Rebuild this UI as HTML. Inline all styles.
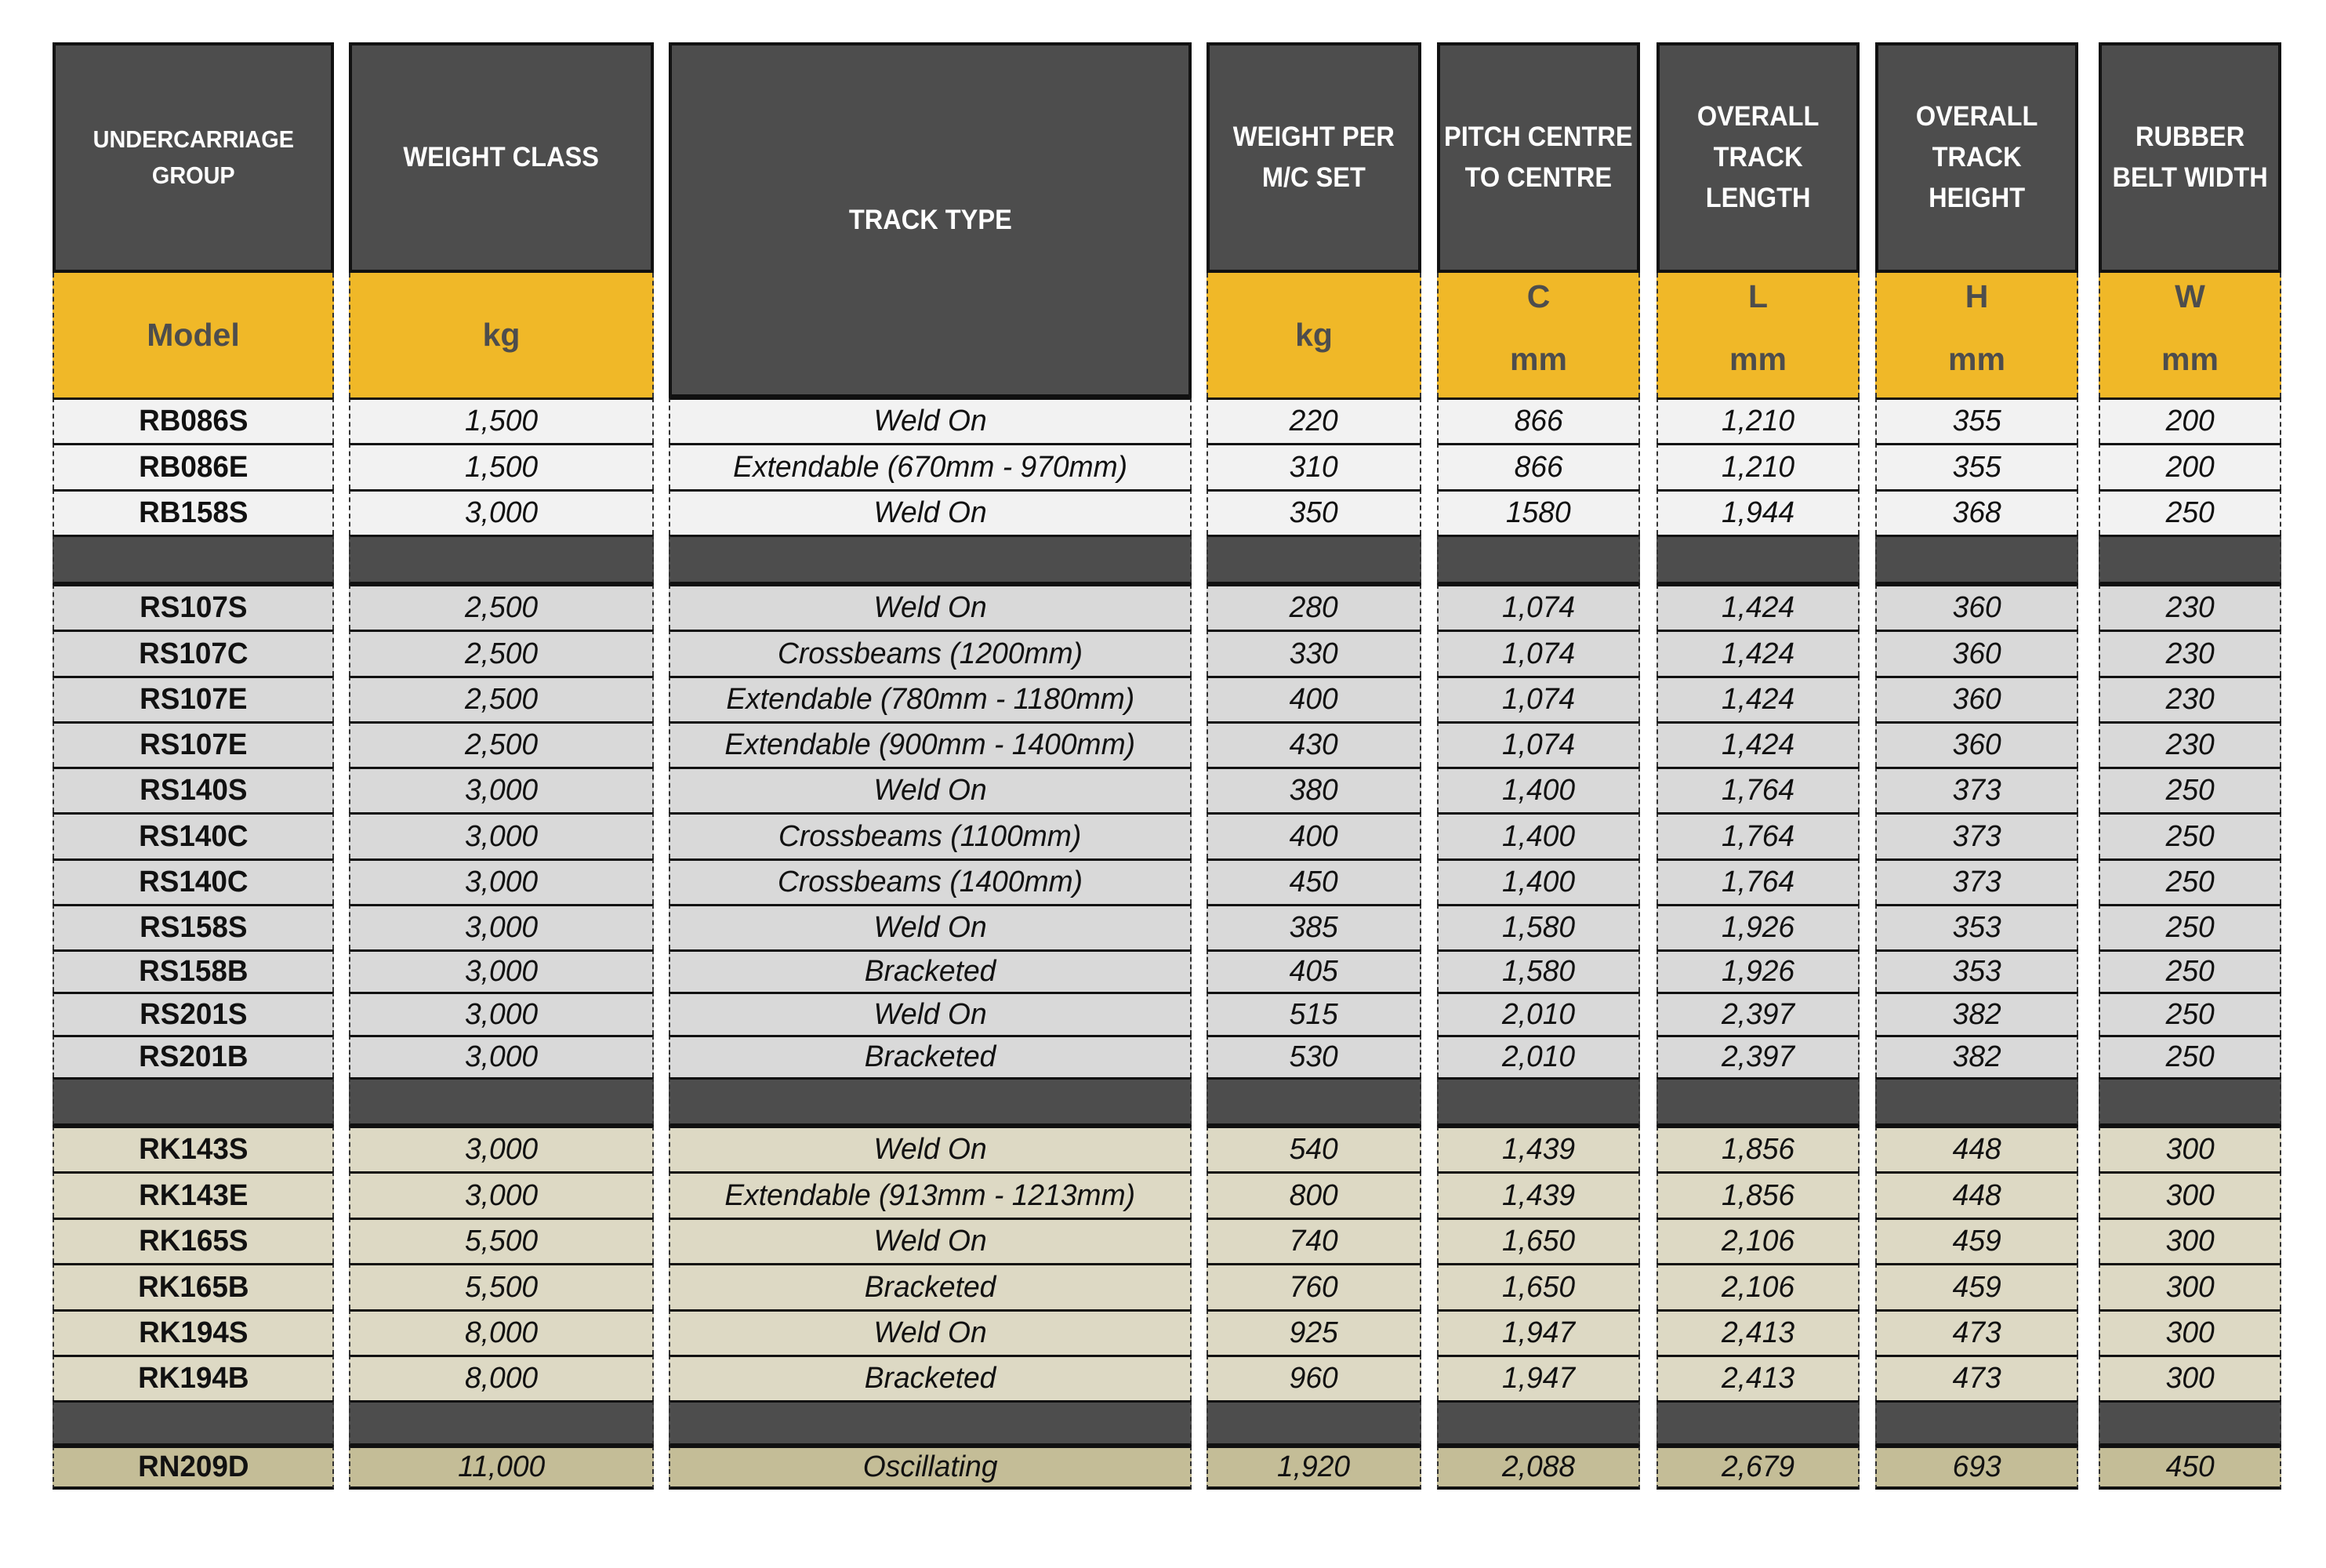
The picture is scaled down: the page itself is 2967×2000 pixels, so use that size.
<!DOCTYPE html>
<html><head><meta charset="utf-8"><style>
html,body{margin:0;padding:0;background:#fff;}
body{width:2967px;height:2000px;position:relative;overflow:hidden;font-family:"Liberation Sans",sans-serif;}
.h{position:absolute;top:54px;height:294px;box-sizing:border-box;background:#4d4d4d;border:4px solid #111;display:flex;align-items:center;justify-content:center;text-align:center;color:#fff;font-weight:bold;font-size:35px;line-height:52px;}
.h span{display:inline-block;transform:scaleX(.93);white-space:nowrap;}
.y{position:absolute;top:348px;height:159px;box-sizing:border-box;background:#f0b828;border-left:2px dashed #333;border-right:2px dashed #333;color:#4d4d4d;font-weight:bold;font-size:41px;text-align:center;}
.y span{display:inline-block;transform:scaleX(1);}
.r{position:absolute;left:0;width:2967px;}
.c{position:absolute;top:0;height:100%;box-sizing:border-box;border-top:3px solid #111;border-left:2px dashed #333;border-right:2px dashed #333;display:flex;align-items:center;justify-content:center;font-style:italic;font-size:38px;color:#111;}
.c span{display:inline-block;transform:scaleX(.98);white-space:nowrap;}
.c1{left:67px;width:359px;font-style:normal;font-weight:bold;}
.c1 span{transform:scaleX(.97);}
.c2{left:445px;width:389px;}
.c3{left:853px;width:667px;}
.c4{left:1539px;width:274px;}
.c5{left:1833px;width:259px;}
.c6{left:2113px;width:259px;}
.c7{left:2392px;width:259px;}
.c8{left:2677px;width:233px;}
.a .c{background:#f2f2f2}
.b .c{background:#d9d9d9}
.k .c{background:#ddd9c4}
.n .c{background:#c4bd97;border-bottom:4px solid #111}
.d .c{background:#4d4d4d;border-bottom:3px solid #111}
</style></head><body>

<div class="h" style="left:67px;width:359px;font-size:31px;line-height:46px;"><span>UNDERCARRIAGE<br>GROUP</span></div>
<div class="h" style="left:445px;width:389px;"><span>WEIGHT CLASS</span></div>
<div class="h" style="left:853px;width:667px;height:453px;"><span>TRACK TYPE</span></div>
<div class="h" style="left:1539px;width:274px;"><span>WEIGHT PER<br>M/C SET</span></div>
<div class="h" style="left:1833px;width:259px;"><span>PITCH CENTRE<br>TO CENTRE</span></div>
<div class="h" style="left:2113px;width:259px;"><span>OVERALL<br>TRACK<br>LENGTH</span></div>
<div class="h" style="left:2392px;width:259px;"><span>OVERALL<br>TRACK<br>HEIGHT</span></div>
<div class="h" style="left:2677px;width:233px;"><span>RUBBER<br>BELT WIDTH</span></div>

<div class="y" style="left:67px;width:359px;line-height:159px;"><span>Model</span></div>
<div class="y" style="left:445px;width:389px;line-height:159px;"><span>kg</span></div>
<div class="y" style="left:1539px;width:274px;line-height:159px;"><span>kg</span></div>
<div class="y" style="left:1833px;width:259px;"><div style="position:absolute;top:6px;width:100%;line-height:48px;"><span>C</span></div><div style="position:absolute;top:86px;width:100%;line-height:48px;"><span>mm</span></div></div>
<div class="y" style="left:2113px;width:259px;"><div style="position:absolute;top:6px;width:100%;line-height:48px;"><span>L</span></div><div style="position:absolute;top:86px;width:100%;line-height:48px;"><span>mm</span></div></div>
<div class="y" style="left:2392px;width:259px;"><div style="position:absolute;top:6px;width:100%;line-height:48px;"><span>H</span></div><div style="position:absolute;top:86px;width:100%;line-height:48px;"><span>mm</span></div></div>
<div class="y" style="left:2677px;width:233px;"><div style="position:absolute;top:6px;width:100%;line-height:48px;"><span>W</span></div><div style="position:absolute;top:86px;width:100%;line-height:48px;"><span>mm</span></div></div>

<div class="r a" style="top:507px;height:58px"><div class="c c1"><span>RB086S</span></div><div class="c c2"><span>1,500</span></div><div class="c c3"><span>Weld On</span></div><div class="c c4"><span>220</span></div><div class="c c5"><span>866</span></div><div class="c c6"><span>1,210</span></div><div class="c c7"><span>355</span></div><div class="c c8"><span>200</span></div></div>
<div class="r a" style="top:565px;height:59px"><div class="c c1"><span>RB086E</span></div><div class="c c2"><span>1,500</span></div><div class="c c3"><span>Extendable (670mm - 970mm)</span></div><div class="c c4"><span>310</span></div><div class="c c5"><span>866</span></div><div class="c c6"><span>1,210</span></div><div class="c c7"><span>355</span></div><div class="c c8"><span>200</span></div></div>
<div class="r a" style="top:624px;height:58px"><div class="c c1"><span>RB158S</span></div><div class="c c2"><span>3,000</span></div><div class="c c3"><span>Weld On</span></div><div class="c c4"><span>350</span></div><div class="c c5"><span>1580</span></div><div class="c c6"><span>1,944</span></div><div class="c c7"><span>368</span></div><div class="c c8"><span>250</span></div></div>
<div class="r d" style="top:682px;height:63px"><div class="c c1"></div><div class="c c2"></div><div class="c c3"></div><div class="c c4"></div><div class="c c5"></div><div class="c c6"></div><div class="c c7"></div><div class="c c8"></div></div>

<div class="r b" style="top:745px;height:58px"><div class="c c1"><span>RS107S</span></div><div class="c c2"><span>2,500</span></div><div class="c c3"><span>Weld On</span></div><div class="c c4"><span>280</span></div><div class="c c5"><span>1,074</span></div><div class="c c6"><span>1,424</span></div><div class="c c7"><span>360</span></div><div class="c c8"><span>230</span></div></div>
<div class="r b" style="top:803px;height:59px"><div class="c c1"><span>RS107C</span></div><div class="c c2"><span>2,500</span></div><div class="c c3"><span>Crossbeams (1200mm)</span></div><div class="c c4"><span>330</span></div><div class="c c5"><span>1,074</span></div><div class="c c6"><span>1,424</span></div><div class="c c7"><span>360</span></div><div class="c c8"><span>230</span></div></div>
<div class="r b" style="top:862px;height:58px"><div class="c c1"><span>RS107E</span></div><div class="c c2"><span>2,500</span></div><div class="c c3"><span>Extendable (780mm - 1180mm)</span></div><div class="c c4"><span>400</span></div><div class="c c5"><span>1,074</span></div><div class="c c6"><span>1,424</span></div><div class="c c7"><span>360</span></div><div class="c c8"><span>230</span></div></div>
<div class="r b" style="top:920px;height:58px"><div class="c c1"><span>RS107E</span></div><div class="c c2"><span>2,500</span></div><div class="c c3"><span>Extendable (900mm - 1400mm)</span></div><div class="c c4"><span>430</span></div><div class="c c5"><span>1,074</span></div><div class="c c6"><span>1,424</span></div><div class="c c7"><span>360</span></div><div class="c c8"><span>230</span></div></div>
<div class="r b" style="top:978px;height:58px"><div class="c c1"><span>RS140S</span></div><div class="c c2"><span>3,000</span></div><div class="c c3"><span>Weld On</span></div><div class="c c4"><span>380</span></div><div class="c c5"><span>1,400</span></div><div class="c c6"><span>1,764</span></div><div class="c c7"><span>373</span></div><div class="c c8"><span>250</span></div></div>
<div class="r b" style="top:1036px;height:59px"><div class="c c1"><span>RS140C</span></div><div class="c c2"><span>3,000</span></div><div class="c c3"><span>Crossbeams (1100mm)</span></div><div class="c c4"><span>400</span></div><div class="c c5"><span>1,400</span></div><div class="c c6"><span>1,764</span></div><div class="c c7"><span>373</span></div><div class="c c8"><span>250</span></div></div>
<div class="r b" style="top:1095px;height:58px"><div class="c c1"><span>RS140C</span></div><div class="c c2"><span>3,000</span></div><div class="c c3"><span>Crossbeams (1400mm)</span></div><div class="c c4"><span>450</span></div><div class="c c5"><span>1,400</span></div><div class="c c6"><span>1,764</span></div><div class="c c7"><span>373</span></div><div class="c c8"><span>250</span></div></div>
<div class="r b" style="top:1153px;height:58px"><div class="c c1"><span>RS158S</span></div><div class="c c2"><span>3,000</span></div><div class="c c3"><span>Weld On</span></div><div class="c c4"><span>385</span></div><div class="c c5"><span>1,580</span></div><div class="c c6"><span>1,926</span></div><div class="c c7"><span>353</span></div><div class="c c8"><span>250</span></div></div>
<div class="r b" style="top:1211px;height:54px"><div class="c c1"><span>RS158B</span></div><div class="c c2"><span>3,000</span></div><div class="c c3"><span>Bracketed</span></div><div class="c c4"><span>405</span></div><div class="c c5"><span>1,580</span></div><div class="c c6"><span>1,926</span></div><div class="c c7"><span>353</span></div><div class="c c8"><span>250</span></div></div>
<div class="r b" style="top:1265px;height:55px"><div class="c c1"><span>RS201S</span></div><div class="c c2"><span>3,000</span></div><div class="c c3"><span>Weld On</span></div><div class="c c4"><span>515</span></div><div class="c c5"><span>2,010</span></div><div class="c c6"><span>2,397</span></div><div class="c c7"><span>382</span></div><div class="c c8"><span>250</span></div></div>
<div class="r b" style="top:1320px;height:54px"><div class="c c1"><span>RS201B</span></div><div class="c c2"><span>3,000</span></div><div class="c c3"><span>Bracketed</span></div><div class="c c4"><span>530</span></div><div class="c c5"><span>2,010</span></div><div class="c c6"><span>2,397</span></div><div class="c c7"><span>382</span></div><div class="c c8"><span>250</span></div></div>
<div class="r d" style="top:1374px;height:62px"><div class="c c1"></div><div class="c c2"></div><div class="c c3"></div><div class="c c4"></div><div class="c c5"></div><div class="c c6"></div><div class="c c7"></div><div class="c c8"></div></div>

<div class="r k" style="top:1436px;height:58px"><div class="c c1"><span>RK143S</span></div><div class="c c2"><span>3,000</span></div><div class="c c3"><span>Weld On</span></div><div class="c c4"><span>540</span></div><div class="c c5"><span>1,439</span></div><div class="c c6"><span>1,856</span></div><div class="c c7"><span>448</span></div><div class="c c8"><span>300</span></div></div>
<div class="r k" style="top:1494px;height:59px"><div class="c c1"><span>RK143E</span></div><div class="c c2"><span>3,000</span></div><div class="c c3"><span>Extendable (913mm - 1213mm)</span></div><div class="c c4"><span>800</span></div><div class="c c5"><span>1,439</span></div><div class="c c6"><span>1,856</span></div><div class="c c7"><span>448</span></div><div class="c c8"><span>300</span></div></div>
<div class="r k" style="top:1553px;height:58px"><div class="c c1"><span>RK165S</span></div><div class="c c2"><span>5,500</span></div><div class="c c3"><span>Weld On</span></div><div class="c c4"><span>740</span></div><div class="c c5"><span>1,650</span></div><div class="c c6"><span>2,106</span></div><div class="c c7"><span>459</span></div><div class="c c8"><span>300</span></div></div>
<div class="r k" style="top:1611px;height:59px"><div class="c c1"><span>RK165B</span></div><div class="c c2"><span>5,500</span></div><div class="c c3"><span>Bracketed</span></div><div class="c c4"><span>760</span></div><div class="c c5"><span>1,650</span></div><div class="c c6"><span>2,106</span></div><div class="c c7"><span>459</span></div><div class="c c8"><span>300</span></div></div>
<div class="r k" style="top:1670px;height:58px"><div class="c c1"><span>RK194S</span></div><div class="c c2"><span>8,000</span></div><div class="c c3"><span>Weld On</span></div><div class="c c4"><span>925</span></div><div class="c c5"><span>1,947</span></div><div class="c c6"><span>2,413</span></div><div class="c c7"><span>473</span></div><div class="c c8"><span>300</span></div></div>
<div class="r k" style="top:1728px;height:58px"><div class="c c1"><span>RK194B</span></div><div class="c c2"><span>8,000</span></div><div class="c c3"><span>Bracketed</span></div><div class="c c4"><span>960</span></div><div class="c c5"><span>1,947</span></div><div class="c c6"><span>2,413</span></div><div class="c c7"><span>473</span></div><div class="c c8"><span>300</span></div></div>
<div class="r d" style="top:1786px;height:58px"><div class="c c1"></div><div class="c c2"></div><div class="c c3"></div><div class="c c4"></div><div class="c c5"></div><div class="c c6"></div><div class="c c7"></div><div class="c c8"></div></div>

<div class="r n" style="top:1844px;height:56px"><div class="c c1"><span>RN209D</span></div><div class="c c2"><span>11,000</span></div><div class="c c3"><span>Oscillating</span></div><div class="c c4"><span>1,920</span></div><div class="c c5"><span>2,088</span></div><div class="c c6"><span>2,679</span></div><div class="c c7"><span>693</span></div><div class="c c8"><span>450</span></div></div>

</body></html>
